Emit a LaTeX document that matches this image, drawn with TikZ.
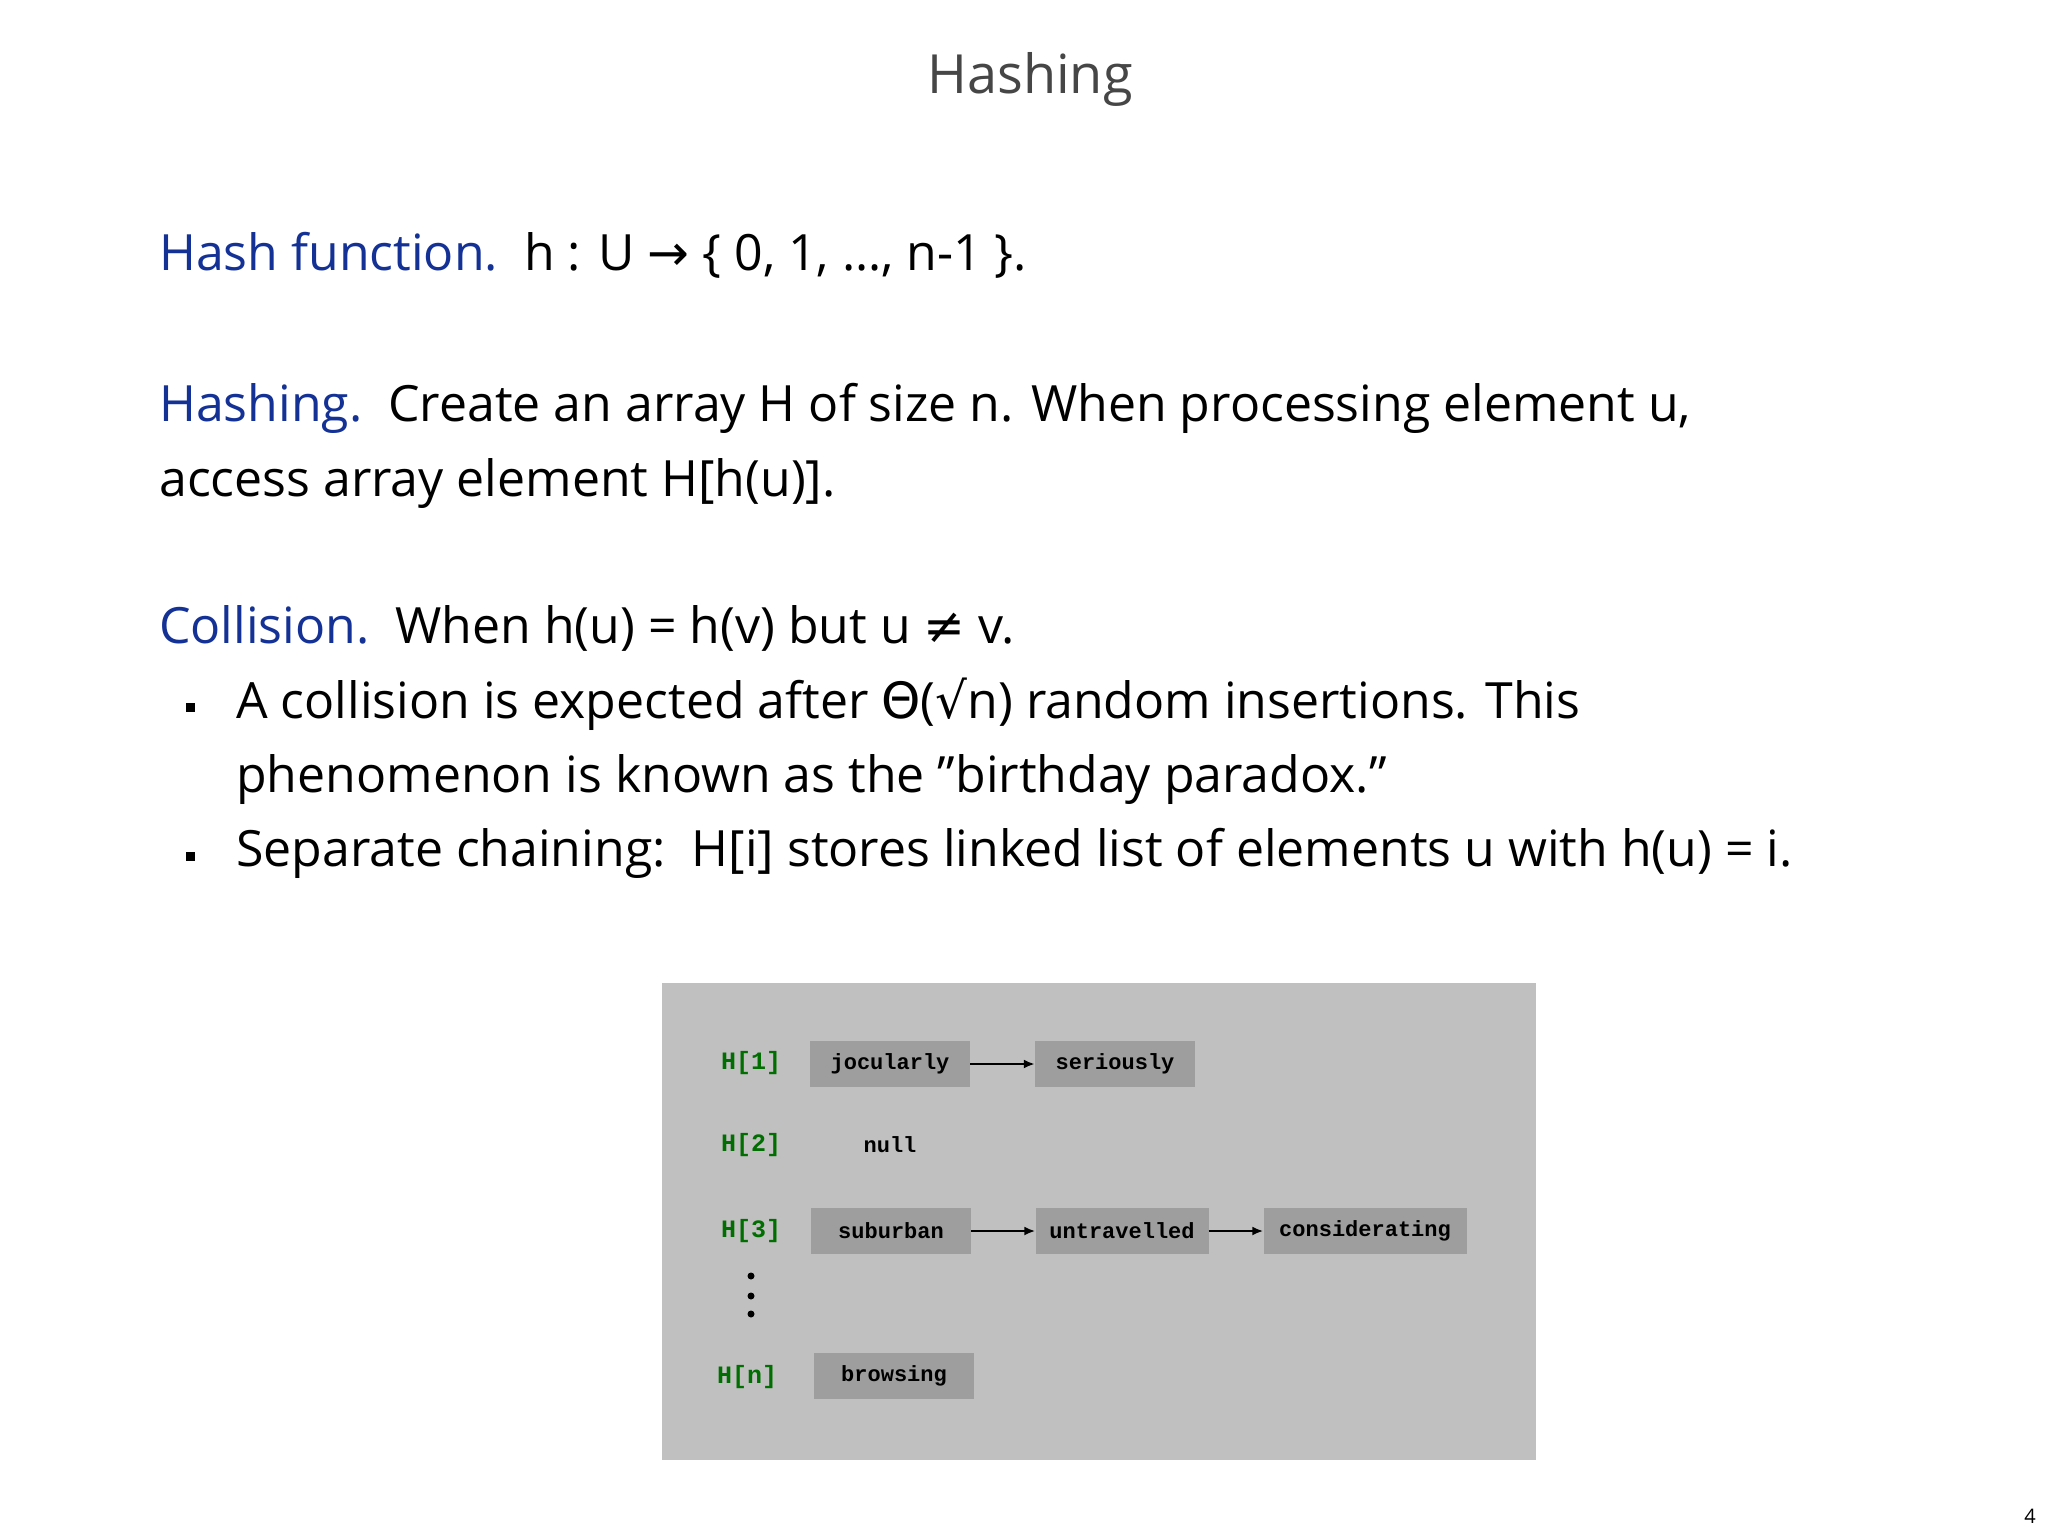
\documentclass[tikz,border=0pt]{standalone}
\usepackage{fontspec}
\usetikzlibrary{arrows.meta}
\setmainfont{Open Sans}
\setmonofont{Liberation Mono}
\newfontfamily\symf{DejaVu Sans}
\begin{document}
\begin{tikzpicture}[x=1pt,y=-1pt,
  body/.style={anchor=base west,inner sep=0,font=\fontsize{50}{58}\selectfont},
  cell/.style={fill=cellgray,minimum width=160pt,minimum height=46pt,inner sep=0,font=\fontsize{22}{24}\ttfamily\bfseries},
  lab/.style={text=labgreen,font=\fontsize{25}{28}\ttfamily\bfseries},
  arr/.style={-{Latex[length=11pt,width=9pt]},line width=2.5pt}]
\definecolor{hblue}{RGB}{20,50,150}
\definecolor{cellgray}{RGB}{158,158,158}
\definecolor{boxgray}{RGB}{192,192,192}
\definecolor{labgreen}{RGB}{0,110,0}
\definecolor{titlegray}{RGB}{70,70,70}
\useasboundingbox (0,0) rectangle (2048,1536);
\fill[white] (0,0) rectangle (2048,1536);
\node[text=titlegray,font=\fontsize{54}{60}\selectfont] (title) at (1030,79) {Hashing};
\node[body] (l1) at (159,270) {\textcolor{hblue}{Hash function.}\ \ h : U {\symf →} \{ 0, 1, …, n-1 \}.};
\node[body] (l2) at (159,421) {\textcolor{hblue}{Hashing.}\ \ Create an array H of size n. When processing element u,};
\node[body] (l3) at (159,496) {access array element H[h(u)].};
\node[body] (l4) at (159,643) {\textcolor{hblue}{Collision.}\ \ When h(u) = h(v) but u {\symf ≠} v.};
\fill (186,703) rectangle (195,712);
\node[body] (l5) at (236,718) {A collision is expected after {\symf Θ}({\symf √}n) random insertions. This};
\node[body] (l6) at (236,792) {phenomenon is known as the {\char34}birthday paradox.{\char34}};
\fill (186,852) rectangle (195,861);
\node[body] (l7) at (236,866) {Separate chaining:\ \ H[i] stores linked list of elements u with h(u) = i.};
\node[font=\fontsize{20}{24}\selectfont] (pg) at (2030,1516) {4};
\fill[boxgray] (662,983) rectangle (1536,1460);
\node[lab] (h1) at (751,1063) {H[1]};
\node[lab] (h2) at (751,1145) {H[2]};
\node[lab] (h3) at (751,1231) {H[3]};
\node[lab] (hn) at (747,1377) {H[n]};
\fill (751,1276) circle (3.5pt) (751,1296) circle (3.5pt) (751,1314) circle (3.5pt);
\node[cell] (a1) at (890,1064) {jocularly};
\node[cell] (a2) at (1115,1064) {seriously};
\node[font=\fontsize{22}{24}\ttfamily\bfseries] (nl) at (890,1145) {null};
\node[cell] (b1) at (891,1231) {suburban};
\node[cell,minimum width=173pt] (b2) at (1122,1231) {untravelled};
\node[cell,minimum width=203pt] (b3) at (1365,1231) {considerating};
\node[cell] (c1) at (894,1376) {browsing};
\draw[arr] (a1) -- (a2);
\draw[arr] (b1) -- (b2);
\draw[arr] (b2) -- (b3);
\end{tikzpicture}
\end{document}
